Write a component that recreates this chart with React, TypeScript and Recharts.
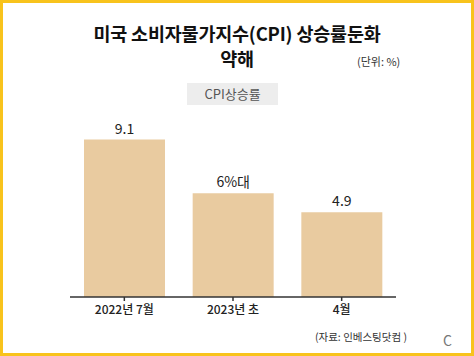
import React from 'react';
import { BarChart, Bar, XAxis, YAxis, LabelList } from 'recharts';

// categories and values
const categories = ['2022년 7월', '2023년 초', '4월'];
const cpiValues = [9.1, 6.0, 4.9];
const valueLabels = ['9.1', '6%대', '4.9'];

const data = categories.map((name, i) => ({
  name,
  cpi: cpiValues[i],
  label: valueLabels[i],
}));

const FONT = '"Noto Sans CJK KR", "Noto Sans", sans-serif';

const titleLine: React.CSSProperties = {
  position: 'absolute',
  left: -3,
  width: 474,
  height: 22,
  textAlign: 'center',
  fontSize: 18.5,
  fontWeight: 700,
  lineHeight: '22px',
  color: '#111',
  letterSpacing: -0.2,
};

export default function App() {
  return (
    <div
      style={{
        position: 'absolute',
        left: 0,
        top: 0,
        width: 474,
        height: 356,
        boxSizing: 'border-box',
        border: '3px solid #F8C31C',
        background: '#fff',
        fontFamily: FONT,
        overflow: 'hidden',
      }}
    >
      {/* title, two lines */}
      <div style={{ ...titleLine, top: 19 }}>미국 소비자물가지수(CPI) 상승률둔화</div>
      <div style={{ ...titleLine, top: 44 }}>약해</div>
      <div style={{ position: 'absolute', left: 354, top: 50, fontSize: 11, color: '#333' }}>
        (단위: %)
      </div>

      {/* legend box */}
      <div
        style={{
          position: 'absolute',
          left: 184,
          top: 80,
          width: 91,
          height: 22,
          background: '#EDEDED',
          color: '#555',
          fontSize: 13,
          lineHeight: '22px',
          textAlign: 'center',
        }}
      >
        CPI상승률
      </div>

      <div style={{ position: 'absolute', left: -3, top: -3 }}>
        <BarChart
          width={474}
          height={356}
          data={data}
          margin={{ top: 124, right: 78, bottom: 29, left: 70 }}
        >
          <YAxis hide domain={[0, 10]} />
          <XAxis
            dataKey="name"
            height={30}
            axisLine={{ stroke: '#333', strokeWidth: 1.5 }}
            tickLine={{ stroke: '#333', strokeWidth: 1.5 }}
            tickSize={4}
            tickMargin={4}
            tick={{ fill: '#222', fontSize: 12, fontWeight: 500, fontFamily: FONT }}
            ticks={categories}
            interval={0}
          />
          <Bar dataKey="cpi" fill="#E9CBA0" barSize={81} isAnimationActive={false}>
            <LabelList
              dataKey="label"
              position="top"
              offset={6}
              style={{ fill: '#222', fontSize: 14, fontFamily: FONT }}
            />
          </Bar>
        </BarChart>
      </div>

      {/* source */}
      <div style={{ position: 'absolute', left: 312, top: 326, fontSize: 10.5, color: '#333' }}>
        (자료: 인베스팅닷컴 )
      </div>
      <div style={{ position: 'absolute', left: 440, top: 327, fontSize: 14, color: '#777' }}>
        C
      </div>
    </div>
  );
}
